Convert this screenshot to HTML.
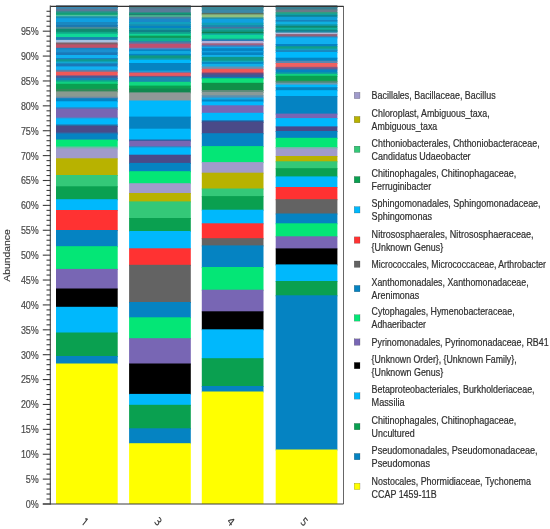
<!DOCTYPE html>
<html><head><meta charset="utf-8"><style>
html,body{margin:0;padding:0;background:#fff;overflow:hidden;}
svg{display:block;}
#w{width:550px;height:529px;}
text{font-family:"Liberation Sans",Arial,sans-serif;}
text.xl{font-family:NanumGothic,"Liberation Sans",sans-serif;}
</style></head><body>
<div id="w"><svg width="550" height="529" viewBox="0 0 550 529">
<rect width="550" height="529" fill="#fff"/>
<g>
<rect x="56.0" y="5.5" width="61.7" height="2.5" fill="#12304a"/>
<rect x="56.0" y="7" width="61.7" height="2.7" fill="#3a88b0"/>
<rect x="56.0" y="8.7" width="61.7" height="3.7" fill="#5a7898"/>
<rect x="56.0" y="11.4" width="61.7" height="2.9" fill="#209888"/>
<rect x="56.0" y="13.3" width="61.7" height="2.5" fill="#10a070"/>
<rect x="56.0" y="14.8" width="61.7" height="2.5" fill="#50c0a0"/>
<rect x="56.0" y="16.3" width="61.7" height="2.9" fill="#1a90b0"/>
<rect x="56.0" y="18.2" width="61.7" height="4.8" fill="#10a0e0"/>
<rect x="56.0" y="22" width="61.7" height="4.0" fill="#1a88c0"/>
<rect x="56.0" y="25" width="61.7" height="2.9" fill="#1a78b0"/>
<rect x="56.0" y="26.9" width="61.7" height="2.9" fill="#4a8a98"/>
<rect x="56.0" y="28.8" width="61.7" height="4.0" fill="#108a70"/>
<rect x="56.0" y="31.8" width="61.7" height="2.9" fill="#10a888"/>
<rect x="56.0" y="33.7" width="61.7" height="4.4" fill="#10d898"/>
<rect x="56.0" y="37.1" width="61.7" height="3.8" fill="#1a80b0"/>
<rect x="56.0" y="39.9" width="61.7" height="3.6" fill="#a8c0e0"/>
<rect x="56.0" y="42.5" width="61.7" height="2.9" fill="#806068"/>
<rect x="56.0" y="44.4" width="61.7" height="4.4" fill="#c05068"/>
<rect x="56.0" y="47.8" width="61.7" height="2.6" fill="#2080c0"/>
<rect x="56.0" y="49.4" width="61.7" height="4.0" fill="#1a90d0"/>
<rect x="56.0" y="52.4" width="61.7" height="3.6" fill="#1a78b8"/>
<rect x="56.0" y="55" width="61.7" height="4.0" fill="#10b0f0"/>
<rect x="56.0" y="58" width="61.7" height="2.2" fill="#1a80c0"/>
<rect x="56.0" y="59.2" width="61.7" height="3.3" fill="#109890"/>
<rect x="56.0" y="61.5" width="61.7" height="2.9" fill="#10a8d0"/>
<rect x="56.0" y="63.4" width="61.7" height="4.0" fill="#1a78b8"/>
<rect x="56.0" y="66.4" width="61.7" height="4.4" fill="#10b0f0"/>
<rect x="56.0" y="69.8" width="61.7" height="2.9" fill="#5a80a8"/>
<rect x="56.0" y="71.7" width="61.7" height="4.8" fill="#f05858"/>
<rect x="56.0" y="75.5" width="61.7" height="3.3" fill="#4a5a98"/>
<rect x="56.0" y="77.8" width="61.7" height="3.2" fill="#1a80b8"/>
<rect x="56.0" y="80" width="61.7" height="2.6" fill="#10a090"/>
<rect x="56.0" y="81.6" width="61.7" height="3.2" fill="#10d080"/>
<rect x="56.0" y="83.8" width="61.7" height="6.0" fill="#0aa050"/>
<rect x="56.0" y="88.8" width="61.7" height="3.6" fill="#308a58"/>
<rect x="56.0" y="91.4" width="61.7" height="6.3" fill="#8a9a90"/>
<rect x="56.0" y="96.7" width="61.7" height="2.5" fill="#6a8aa8"/>
<rect x="56.0" y="98.2" width="61.7" height="4.1" fill="#0583c2"/>
<rect x="56.0" y="101.3" width="61.7" height="7.0" fill="#00b8fc"/>
<rect x="56.0" y="107.3" width="61.7" height="2.5" fill="#3a80c0"/>
<rect x="56.0" y="108.8" width="61.7" height="9.7" fill="#7866b4"/>
<rect x="56.0" y="117.5" width="61.7" height="2.0" fill="#3a90d0"/>
<rect x="56.0" y="118.5" width="61.7" height="7.0" fill="#00b8fc"/>
<rect x="56.0" y="124.5" width="61.7" height="2.5" fill="#2a6aa0"/>
<rect x="56.0" y="126" width="61.7" height="7.5" fill="#4a4a88"/>
<rect x="56.0" y="132.5" width="61.7" height="2.1" fill="#2a6aa8"/>
<rect x="56.0" y="133.6" width="61.7" height="6.4" fill="#0583c2"/>
<rect x="56.0" y="139" width="61.7" height="2.0" fill="#10a8a0"/>
<rect x="56.0" y="140" width="61.7" height="7.5" fill="#04e676"/>
<rect x="56.0" y="146.5" width="61.7" height="2.9" fill="#70b8a8"/>
<rect x="56.0" y="148.4" width="61.7" height="10.9" fill="#a09bcb"/>
<rect x="56.0" y="158.3" width="61.7" height="17.7" fill="#b8b200"/>
<rect x="56.0" y="175" width="61.7" height="12.3" fill="#34c878"/>
<rect x="56.0" y="186.3" width="61.7" height="13.9" fill="#0aa050"/>
<rect x="56.0" y="199.2" width="61.7" height="11.8" fill="#00b8fc"/>
<rect x="56.0" y="210" width="61.7" height="21.0" fill="#ff3232"/>
<rect x="56.0" y="230" width="61.7" height="17.2" fill="#0583c2"/>
<rect x="56.0" y="246.2" width="61.7" height="23.7" fill="#04e676"/>
<rect x="56.0" y="268.9" width="61.7" height="20.6" fill="#7866b4"/>
<rect x="56.0" y="288.5" width="61.7" height="19.3" fill="#000000"/>
<rect x="56.0" y="306.8" width="61.7" height="26.7" fill="#00b8fc"/>
<rect x="56.0" y="332.5" width="61.7" height="24.5" fill="#0aa050"/>
<rect x="56.0" y="356" width="61.7" height="8.5" fill="#0583c2"/>
<rect x="56.0" y="363.5" width="61.7" height="140.5" fill="#ffff00"/>
<rect x="129.1" y="5.5" width="61.7" height="2.3" fill="#203040"/>
<rect x="129.1" y="6.8" width="61.7" height="2.5" fill="#4a8088"/>
<rect x="129.1" y="8.3" width="61.7" height="5.2" fill="#5a7a98"/>
<rect x="129.1" y="12.5" width="61.7" height="2.5" fill="#109878"/>
<rect x="129.1" y="14" width="61.7" height="2.2" fill="#208070"/>
<rect x="129.1" y="15.2" width="61.7" height="2.5" fill="#50b890"/>
<rect x="129.1" y="16.7" width="61.7" height="2.9" fill="#4a80a0"/>
<rect x="129.1" y="18.6" width="61.7" height="4.4" fill="#1a88c8"/>
<rect x="129.1" y="22" width="61.7" height="3.2" fill="#10a0c0"/>
<rect x="129.1" y="24.2" width="61.7" height="2.6" fill="#1a90b0"/>
<rect x="129.1" y="25.8" width="61.7" height="3.2" fill="#0583c2"/>
<rect x="129.1" y="28" width="61.7" height="2.9" fill="#109aa8"/>
<rect x="129.1" y="29.9" width="61.7" height="3.3" fill="#108088"/>
<rect x="129.1" y="32.2" width="61.7" height="2.9" fill="#10a890"/>
<rect x="129.1" y="34.1" width="61.7" height="2.5" fill="#10d898"/>
<rect x="129.1" y="35.6" width="61.7" height="3.3" fill="#109858"/>
<rect x="129.1" y="37.9" width="61.7" height="4.1" fill="#10b090"/>
<rect x="129.1" y="41" width="61.7" height="2.5" fill="#2a8aa8"/>
<rect x="129.1" y="42.5" width="61.7" height="2.5" fill="#7a6a98"/>
<rect x="129.1" y="44" width="61.7" height="4.8" fill="#c05070"/>
<rect x="129.1" y="47.8" width="61.7" height="2.6" fill="#5a80c0"/>
<rect x="129.1" y="49.4" width="61.7" height="2.5" fill="#0583c2"/>
<rect x="129.1" y="50.9" width="61.7" height="4.0" fill="#10a8e0"/>
<rect x="129.1" y="53.9" width="61.7" height="2.5" fill="#0583c2"/>
<rect x="129.1" y="55.4" width="61.7" height="4.1" fill="#109880"/>
<rect x="129.1" y="58.5" width="61.7" height="2.5" fill="#10a0c0"/>
<rect x="129.1" y="60" width="61.7" height="4.0" fill="#00b8fc"/>
<rect x="129.1" y="63" width="61.7" height="8.6" fill="#0583c2"/>
<rect x="129.1" y="70.6" width="61.7" height="2.1" fill="#10a8e0"/>
<rect x="129.1" y="71.7" width="61.7" height="2.1" fill="#5a7ab0"/>
<rect x="129.1" y="72.8" width="61.7" height="4.1" fill="#e85860"/>
<rect x="129.1" y="75.9" width="61.7" height="2.3" fill="#5a6090"/>
<rect x="129.1" y="77.2" width="61.7" height="5.6" fill="#1a88b0"/>
<rect x="129.1" y="81.8" width="61.7" height="4.8" fill="#10d880"/>
<rect x="129.1" y="85.6" width="61.7" height="3.9" fill="#0aa050"/>
<rect x="129.1" y="88.5" width="61.7" height="4.9" fill="#108850"/>
<rect x="129.1" y="92.4" width="61.7" height="9.1" fill="#909898"/>
<rect x="129.1" y="100.5" width="61.7" height="17.1" fill="#00b8fc"/>
<rect x="129.1" y="116.6" width="61.7" height="13.1" fill="#0583c2"/>
<rect x="129.1" y="128.7" width="61.7" height="11.8" fill="#00b8fc"/>
<rect x="129.1" y="139.5" width="61.7" height="2.3" fill="#2a60a0"/>
<rect x="129.1" y="140.8" width="61.7" height="6.3" fill="#7866b4"/>
<rect x="129.1" y="146.1" width="61.7" height="2.3" fill="#3a80c0"/>
<rect x="129.1" y="147.4" width="61.7" height="8.3" fill="#00b8fc"/>
<rect x="129.1" y="154.7" width="61.7" height="9.2" fill="#4a4a88"/>
<rect x="129.1" y="162.9" width="61.7" height="9.3" fill="#0583c2"/>
<rect x="129.1" y="171.2" width="61.7" height="13.0" fill="#04e676"/>
<rect x="129.1" y="183.2" width="61.7" height="10.8" fill="#a09bcb"/>
<rect x="129.1" y="193" width="61.7" height="9.4" fill="#b8b200"/>
<rect x="129.1" y="201.4" width="61.7" height="17.6" fill="#34c878"/>
<rect x="129.1" y="218" width="61.7" height="14.0" fill="#0aa050"/>
<rect x="129.1" y="231" width="61.7" height="18.3" fill="#00b8fc"/>
<rect x="129.1" y="248.3" width="61.7" height="17.5" fill="#ff3232"/>
<rect x="129.1" y="264.8" width="61.7" height="38.2" fill="#636363"/>
<rect x="129.1" y="302" width="61.7" height="16.3" fill="#0583c2"/>
<rect x="129.1" y="317.3" width="61.7" height="21.9" fill="#04e676"/>
<rect x="129.1" y="338.2" width="61.7" height="26.3" fill="#7866b4"/>
<rect x="129.1" y="363.5" width="61.7" height="31.4" fill="#000000"/>
<rect x="129.1" y="393.9" width="61.7" height="11.9" fill="#00b8fc"/>
<rect x="129.1" y="404.8" width="61.7" height="24.5" fill="#0aa050"/>
<rect x="129.1" y="428.3" width="61.7" height="15.9" fill="#0583c2"/>
<rect x="129.1" y="443.2" width="61.7" height="60.8" fill="#ffff00"/>
<rect x="201.8" y="5.5" width="61.7" height="2.3" fill="#103040"/>
<rect x="201.8" y="6.8" width="61.7" height="4.0" fill="#3a8898"/>
<rect x="201.8" y="9.8" width="61.7" height="4.1" fill="#3a88a8"/>
<rect x="201.8" y="12.9" width="61.7" height="2.5" fill="#5a7060"/>
<rect x="201.8" y="14.4" width="61.7" height="4.0" fill="#90c080"/>
<rect x="201.8" y="17.4" width="61.7" height="2.5" fill="#2a90a0"/>
<rect x="201.8" y="18.9" width="61.7" height="4.8" fill="#10a0e0"/>
<rect x="201.8" y="22.7" width="61.7" height="3.3" fill="#10a0b8"/>
<rect x="201.8" y="25" width="61.7" height="2.9" fill="#1a88b0"/>
<rect x="201.8" y="26.9" width="61.7" height="2.5" fill="#4a70a0"/>
<rect x="201.8" y="28.4" width="61.7" height="2.5" fill="#20a0a0"/>
<rect x="201.8" y="29.9" width="61.7" height="2.9" fill="#109888"/>
<rect x="201.8" y="31.8" width="61.7" height="2.5" fill="#108050"/>
<rect x="201.8" y="33.3" width="61.7" height="2.5" fill="#10a8a0"/>
<rect x="201.8" y="34.8" width="61.7" height="4.8" fill="#10d898"/>
<rect x="201.8" y="38.6" width="61.7" height="1.9" fill="#10a890"/>
<rect x="201.8" y="39.5" width="61.7" height="2.5" fill="#2a78b8"/>
<rect x="201.8" y="41" width="61.7" height="3.3" fill="#b0b0d8"/>
<rect x="201.8" y="43.3" width="61.7" height="2.9" fill="#a06080"/>
<rect x="201.8" y="45.2" width="61.7" height="2.5" fill="#4a78b8"/>
<rect x="201.8" y="46.7" width="61.7" height="2.5" fill="#10a8e8"/>
<rect x="201.8" y="48.2" width="61.7" height="3.7" fill="#0583c2"/>
<rect x="201.8" y="50.9" width="61.7" height="2.5" fill="#10a0e0"/>
<rect x="201.8" y="52.4" width="61.7" height="3.6" fill="#0583c2"/>
<rect x="201.8" y="55" width="61.7" height="2.9" fill="#10b0e8"/>
<rect x="201.8" y="56.9" width="61.7" height="4.8" fill="#109888"/>
<rect x="201.8" y="60.7" width="61.7" height="2.5" fill="#10a8c0"/>
<rect x="201.8" y="62.2" width="61.7" height="2.6" fill="#0583c2"/>
<rect x="201.8" y="63.8" width="61.7" height="3.7" fill="#10b0e8"/>
<rect x="201.8" y="66.5" width="61.7" height="3.3" fill="#6a90b0"/>
<rect x="201.8" y="68.8" width="61.7" height="4.8" fill="#f05858"/>
<rect x="201.8" y="72.6" width="61.7" height="2.9" fill="#6a4a80"/>
<rect x="201.8" y="74.5" width="61.7" height="3.7" fill="#3a5a98"/>
<rect x="201.8" y="77.2" width="61.7" height="2.1" fill="#0583c2"/>
<rect x="201.8" y="78.3" width="61.7" height="5.5" fill="#10e078"/>
<rect x="201.8" y="82.8" width="61.7" height="8.2" fill="#109048"/>
<rect x="201.8" y="90" width="61.7" height="2.9" fill="#5a8a78"/>
<rect x="201.8" y="91.9" width="61.7" height="4.4" fill="#8a9a98"/>
<rect x="201.8" y="95.3" width="61.7" height="3.3" fill="#5a90b0"/>
<rect x="201.8" y="97.6" width="61.7" height="2.9" fill="#10a8e8"/>
<rect x="201.8" y="99.5" width="61.7" height="3.0" fill="#0583c2"/>
<rect x="201.8" y="101.5" width="61.7" height="4.8" fill="#00b8fc"/>
<rect x="201.8" y="105.3" width="61.7" height="8.5" fill="#7866b4"/>
<rect x="201.8" y="112.8" width="61.7" height="8.6" fill="#00b8fc"/>
<rect x="201.8" y="120.4" width="61.7" height="2.5" fill="#2a5a98"/>
<rect x="201.8" y="121.9" width="61.7" height="12.3" fill="#4a4a88"/>
<rect x="201.8" y="133.2" width="61.7" height="13.9" fill="#0583c2"/>
<rect x="201.8" y="146.1" width="61.7" height="17.0" fill="#04e676"/>
<rect x="201.8" y="162.1" width="61.7" height="11.6" fill="#a09bcb"/>
<rect x="201.8" y="172.7" width="61.7" height="16.8" fill="#b8b200"/>
<rect x="201.8" y="188.5" width="61.7" height="8.6" fill="#34c878"/>
<rect x="201.8" y="196.1" width="61.7" height="14.6" fill="#0aa050"/>
<rect x="201.8" y="209.7" width="61.7" height="14.6" fill="#00b8fc"/>
<rect x="201.8" y="223.3" width="61.7" height="15.9" fill="#ff3232"/>
<rect x="201.8" y="238.2" width="61.7" height="8.2" fill="#636363"/>
<rect x="201.8" y="245.4" width="61.7" height="22.6" fill="#0583c2"/>
<rect x="201.8" y="267" width="61.7" height="23.7" fill="#04e676"/>
<rect x="201.8" y="289.7" width="61.7" height="22.6" fill="#7866b4"/>
<rect x="201.8" y="311.3" width="61.7" height="19.0" fill="#000000"/>
<rect x="201.8" y="329.3" width="61.7" height="29.9" fill="#00b8fc"/>
<rect x="201.8" y="358.2" width="61.7" height="28.8" fill="#0aa050"/>
<rect x="201.8" y="386" width="61.7" height="6.5" fill="#0583c2"/>
<rect x="201.8" y="391.5" width="61.7" height="112.5" fill="#ffff00"/>
<rect x="275.7" y="5.5" width="61.7" height="2.3" fill="#103040"/>
<rect x="275.7" y="6.8" width="61.7" height="3.7" fill="#3a8090"/>
<rect x="275.7" y="9.5" width="61.7" height="3.6" fill="#6a7a88"/>
<rect x="275.7" y="12.1" width="61.7" height="2.5" fill="#30a080"/>
<rect x="275.7" y="13.6" width="61.7" height="2.6" fill="#10a0a0"/>
<rect x="275.7" y="15.2" width="61.7" height="2.5" fill="#108090"/>
<rect x="275.7" y="16.7" width="61.7" height="4.4" fill="#10a0d8"/>
<rect x="275.7" y="20.1" width="61.7" height="2.5" fill="#1a80b8"/>
<rect x="275.7" y="21.6" width="61.7" height="3.6" fill="#10b0e0"/>
<rect x="275.7" y="24.2" width="61.7" height="2.6" fill="#109ab0"/>
<rect x="275.7" y="25.8" width="61.7" height="2.9" fill="#108870"/>
<rect x="275.7" y="27.7" width="61.7" height="2.8" fill="#10b0a0"/>
<rect x="275.7" y="29.5" width="61.7" height="1.8" fill="#109880"/>
<rect x="275.7" y="30.3" width="61.7" height="1.7" fill="#1a7890"/>
<rect x="275.7" y="31" width="61.7" height="2.6" fill="#1a88a0"/>
<rect x="275.7" y="32.6" width="61.7" height="2.5" fill="#b0b8d8"/>
<rect x="275.7" y="34.1" width="61.7" height="3.3" fill="#906078"/>
<rect x="275.7" y="36.4" width="61.7" height="2.1" fill="#2a88c0"/>
<rect x="275.7" y="37.5" width="61.7" height="7.5" fill="#10b0f0"/>
<rect x="275.7" y="44" width="61.7" height="3.3" fill="#0583c2"/>
<rect x="275.7" y="46.3" width="61.7" height="3.3" fill="#10a088"/>
<rect x="275.7" y="48.6" width="61.7" height="2.5" fill="#10a0c0"/>
<rect x="275.7" y="50.1" width="61.7" height="2.9" fill="#1a88c0"/>
<rect x="275.7" y="52" width="61.7" height="6.7" fill="#00b8fc"/>
<rect x="275.7" y="57.7" width="61.7" height="4.0" fill="#0583c2"/>
<rect x="275.7" y="60.7" width="61.7" height="3.3" fill="#5a88b0"/>
<rect x="275.7" y="63" width="61.7" height="4.8" fill="#f06060"/>
<rect x="275.7" y="66.8" width="61.7" height="2.0" fill="#8a5a80"/>
<rect x="275.7" y="67.8" width="61.7" height="2.6" fill="#6a5a90"/>
<rect x="275.7" y="69.4" width="61.7" height="4.0" fill="#0583c2"/>
<rect x="275.7" y="72.4" width="61.7" height="2.6" fill="#10a0a0"/>
<rect x="275.7" y="74" width="61.7" height="2.8" fill="#10d080"/>
<rect x="275.7" y="75.8" width="61.7" height="6.0" fill="#0aa050"/>
<rect x="275.7" y="80.8" width="61.7" height="2.9" fill="#4a8a70"/>
<rect x="275.7" y="82.7" width="61.7" height="2.9" fill="#6a9ab0"/>
<rect x="275.7" y="84.6" width="61.7" height="3.6" fill="#00b8fc"/>
<rect x="275.7" y="87.2" width="61.7" height="4.0" fill="#0583c2"/>
<rect x="275.7" y="90.2" width="61.7" height="6.8" fill="#00b8fc"/>
<rect x="275.7" y="96" width="61.7" height="18.6" fill="#0583c2"/>
<rect x="275.7" y="113.6" width="61.7" height="5.5" fill="#7866b4"/>
<rect x="275.7" y="118.1" width="61.7" height="9.3" fill="#00b8fc"/>
<rect x="275.7" y="126.4" width="61.7" height="5.6" fill="#4a4a88"/>
<rect x="275.7" y="131" width="61.7" height="7.8" fill="#0583c2"/>
<rect x="275.7" y="137.8" width="61.7" height="10.2" fill="#04e676"/>
<rect x="275.7" y="147" width="61.7" height="2.5" fill="#70b8a8"/>
<rect x="275.7" y="148.5" width="61.7" height="8.5" fill="#a09bcb"/>
<rect x="275.7" y="156" width="61.7" height="6.3" fill="#b8b200"/>
<rect x="275.7" y="161.3" width="61.7" height="7.9" fill="#34c878"/>
<rect x="275.7" y="168.2" width="61.7" height="9.2" fill="#0aa050"/>
<rect x="275.7" y="176.4" width="61.7" height="11.6" fill="#00b8fc"/>
<rect x="275.7" y="187" width="61.7" height="13.2" fill="#ff3232"/>
<rect x="275.7" y="199.2" width="61.7" height="15.3" fill="#636363"/>
<rect x="275.7" y="213.5" width="61.7" height="10.8" fill="#0583c2"/>
<rect x="275.7" y="223.3" width="61.7" height="14.0" fill="#04e676"/>
<rect x="275.7" y="236.3" width="61.7" height="13.1" fill="#7866b4"/>
<rect x="275.7" y="248.4" width="61.7" height="17.0" fill="#000000"/>
<rect x="275.7" y="264.4" width="61.7" height="17.6" fill="#00b8fc"/>
<rect x="275.7" y="281" width="61.7" height="15.3" fill="#0aa050"/>
<rect x="275.7" y="295.3" width="61.7" height="155.2" fill="#0583c2"/>
<rect x="275.7" y="449.5" width="61.7" height="54.5" fill="#ffff00"/>
</g>
<g stroke="#555" stroke-width="1">
<line x1="343.5" y1="6" x2="343.5" y2="504" stroke="#666" stroke-width="1"/>
</g>
<g stroke="#333" stroke-width="1.2">
<line x1="50.5" y1="6.3" x2="343.5" y2="6.3"/>
</g>
<g stroke="#3c3c3c" stroke-width="1.1">
<line x1="50.3" y1="5.5" x2="50.3" y2="504.5"/>
<line x1="42.8" y1="504" x2="343.5" y2="504"/>
<line x1="42.8" x2="50.5" y1="504.00" y2="504.00"/>
<line x1="46.5" x2="50.5" y1="499.02" y2="499.02"/>
<line x1="46.5" x2="50.5" y1="494.05" y2="494.05"/>
<line x1="46.5" x2="50.5" y1="489.07" y2="489.07"/>
<line x1="46.5" x2="50.5" y1="484.09" y2="484.09"/>
<line x1="42.8" x2="50.5" y1="479.12" y2="479.12"/>
<line x1="46.5" x2="50.5" y1="474.14" y2="474.14"/>
<line x1="46.5" x2="50.5" y1="469.16" y2="469.16"/>
<line x1="46.5" x2="50.5" y1="464.18" y2="464.18"/>
<line x1="46.5" x2="50.5" y1="459.21" y2="459.21"/>
<line x1="42.8" x2="50.5" y1="454.23" y2="454.23"/>
<line x1="46.5" x2="50.5" y1="449.25" y2="449.25"/>
<line x1="46.5" x2="50.5" y1="444.28" y2="444.28"/>
<line x1="46.5" x2="50.5" y1="439.30" y2="439.30"/>
<line x1="46.5" x2="50.5" y1="434.32" y2="434.32"/>
<line x1="42.8" x2="50.5" y1="429.35" y2="429.35"/>
<line x1="46.5" x2="50.5" y1="424.37" y2="424.37"/>
<line x1="46.5" x2="50.5" y1="419.39" y2="419.39"/>
<line x1="46.5" x2="50.5" y1="414.41" y2="414.41"/>
<line x1="46.5" x2="50.5" y1="409.44" y2="409.44"/>
<line x1="42.8" x2="50.5" y1="404.46" y2="404.46"/>
<line x1="46.5" x2="50.5" y1="399.48" y2="399.48"/>
<line x1="46.5" x2="50.5" y1="394.51" y2="394.51"/>
<line x1="46.5" x2="50.5" y1="389.53" y2="389.53"/>
<line x1="46.5" x2="50.5" y1="384.55" y2="384.55"/>
<line x1="42.8" x2="50.5" y1="379.57" y2="379.57"/>
<line x1="46.5" x2="50.5" y1="374.60" y2="374.60"/>
<line x1="46.5" x2="50.5" y1="369.62" y2="369.62"/>
<line x1="46.5" x2="50.5" y1="364.64" y2="364.64"/>
<line x1="46.5" x2="50.5" y1="359.67" y2="359.67"/>
<line x1="42.8" x2="50.5" y1="354.69" y2="354.69"/>
<line x1="46.5" x2="50.5" y1="349.71" y2="349.71"/>
<line x1="46.5" x2="50.5" y1="344.74" y2="344.74"/>
<line x1="46.5" x2="50.5" y1="339.76" y2="339.76"/>
<line x1="46.5" x2="50.5" y1="334.78" y2="334.78"/>
<line x1="42.8" x2="50.5" y1="329.81" y2="329.81"/>
<line x1="46.5" x2="50.5" y1="324.83" y2="324.83"/>
<line x1="46.5" x2="50.5" y1="319.85" y2="319.85"/>
<line x1="46.5" x2="50.5" y1="314.87" y2="314.87"/>
<line x1="46.5" x2="50.5" y1="309.90" y2="309.90"/>
<line x1="42.8" x2="50.5" y1="304.92" y2="304.92"/>
<line x1="46.5" x2="50.5" y1="299.94" y2="299.94"/>
<line x1="46.5" x2="50.5" y1="294.97" y2="294.97"/>
<line x1="46.5" x2="50.5" y1="289.99" y2="289.99"/>
<line x1="46.5" x2="50.5" y1="285.01" y2="285.01"/>
<line x1="42.8" x2="50.5" y1="280.03" y2="280.03"/>
<line x1="46.5" x2="50.5" y1="275.06" y2="275.06"/>
<line x1="46.5" x2="50.5" y1="270.08" y2="270.08"/>
<line x1="46.5" x2="50.5" y1="265.10" y2="265.10"/>
<line x1="46.5" x2="50.5" y1="260.13" y2="260.13"/>
<line x1="42.8" x2="50.5" y1="255.15" y2="255.15"/>
<line x1="46.5" x2="50.5" y1="250.17" y2="250.17"/>
<line x1="46.5" x2="50.5" y1="245.20" y2="245.20"/>
<line x1="46.5" x2="50.5" y1="240.22" y2="240.22"/>
<line x1="46.5" x2="50.5" y1="235.24" y2="235.24"/>
<line x1="42.8" x2="50.5" y1="230.26" y2="230.26"/>
<line x1="46.5" x2="50.5" y1="225.29" y2="225.29"/>
<line x1="46.5" x2="50.5" y1="220.31" y2="220.31"/>
<line x1="46.5" x2="50.5" y1="215.33" y2="215.33"/>
<line x1="46.5" x2="50.5" y1="210.36" y2="210.36"/>
<line x1="42.8" x2="50.5" y1="205.38" y2="205.38"/>
<line x1="46.5" x2="50.5" y1="200.40" y2="200.40"/>
<line x1="46.5" x2="50.5" y1="195.43" y2="195.43"/>
<line x1="46.5" x2="50.5" y1="190.45" y2="190.45"/>
<line x1="46.5" x2="50.5" y1="185.47" y2="185.47"/>
<line x1="42.8" x2="50.5" y1="180.50" y2="180.50"/>
<line x1="46.5" x2="50.5" y1="175.52" y2="175.52"/>
<line x1="46.5" x2="50.5" y1="170.54" y2="170.54"/>
<line x1="46.5" x2="50.5" y1="165.56" y2="165.56"/>
<line x1="46.5" x2="50.5" y1="160.59" y2="160.59"/>
<line x1="42.8" x2="50.5" y1="155.61" y2="155.61"/>
<line x1="46.5" x2="50.5" y1="150.63" y2="150.63"/>
<line x1="46.5" x2="50.5" y1="145.66" y2="145.66"/>
<line x1="46.5" x2="50.5" y1="140.68" y2="140.68"/>
<line x1="46.5" x2="50.5" y1="135.70" y2="135.70"/>
<line x1="42.8" x2="50.5" y1="130.73" y2="130.73"/>
<line x1="46.5" x2="50.5" y1="125.75" y2="125.75"/>
<line x1="46.5" x2="50.5" y1="120.77" y2="120.77"/>
<line x1="46.5" x2="50.5" y1="115.79" y2="115.79"/>
<line x1="46.5" x2="50.5" y1="110.82" y2="110.82"/>
<line x1="42.8" x2="50.5" y1="105.84" y2="105.84"/>
<line x1="46.5" x2="50.5" y1="100.86" y2="100.86"/>
<line x1="46.5" x2="50.5" y1="95.89" y2="95.89"/>
<line x1="46.5" x2="50.5" y1="90.91" y2="90.91"/>
<line x1="46.5" x2="50.5" y1="85.93" y2="85.93"/>
<line x1="42.8" x2="50.5" y1="80.96" y2="80.96"/>
<line x1="46.5" x2="50.5" y1="75.98" y2="75.98"/>
<line x1="46.5" x2="50.5" y1="71.00" y2="71.00"/>
<line x1="46.5" x2="50.5" y1="66.02" y2="66.02"/>
<line x1="46.5" x2="50.5" y1="61.05" y2="61.05"/>
<line x1="42.8" x2="50.5" y1="56.07" y2="56.07"/>
<line x1="46.5" x2="50.5" y1="51.09" y2="51.09"/>
<line x1="46.5" x2="50.5" y1="46.12" y2="46.12"/>
<line x1="46.5" x2="50.5" y1="41.14" y2="41.14"/>
<line x1="46.5" x2="50.5" y1="36.16" y2="36.16"/>
<line x1="42.8" x2="50.5" y1="31.19" y2="31.19"/>
<line x1="46.5" x2="50.5" y1="26.21" y2="26.21"/>
<line x1="46.5" x2="50.5" y1="21.23" y2="21.23"/>
<line x1="46.5" x2="50.5" y1="16.25" y2="16.25"/>
<line x1="46.5" x2="50.5" y1="11.28" y2="11.28"/>
</g>
<g font-size="10.3" fill="#4a4a4a" stroke="#4a4a4a" stroke-width="0.2" text-anchor="end">
<text transform="translate(38.8,507.90) scale(0.87,1)">0%</text>
<text transform="translate(38.8,483.01) scale(0.87,1)">5%</text>
<text transform="translate(38.8,458.13) scale(0.87,1)">10%</text>
<text transform="translate(38.8,433.25) scale(0.87,1)">15%</text>
<text transform="translate(38.8,408.36) scale(0.87,1)">20%</text>
<text transform="translate(38.8,383.47) scale(0.87,1)">25%</text>
<text transform="translate(38.8,358.59) scale(0.87,1)">30%</text>
<text transform="translate(38.8,333.70) scale(0.87,1)">35%</text>
<text transform="translate(38.8,308.82) scale(0.87,1)">40%</text>
<text transform="translate(38.8,283.93) scale(0.87,1)">45%</text>
<text transform="translate(38.8,259.05) scale(0.87,1)">50%</text>
<text transform="translate(38.8,234.16) scale(0.87,1)">55%</text>
<text transform="translate(38.8,209.28) scale(0.87,1)">60%</text>
<text transform="translate(38.8,184.40) scale(0.87,1)">65%</text>
<text transform="translate(38.8,159.51) scale(0.87,1)">70%</text>
<text transform="translate(38.8,134.63) scale(0.87,1)">75%</text>
<text transform="translate(38.8,109.74) scale(0.87,1)">80%</text>
<text transform="translate(38.8,84.86) scale(0.87,1)">85%</text>
<text transform="translate(38.8,59.97) scale(0.87,1)">90%</text>
<text transform="translate(38.8,35.09) scale(0.87,1)">95%</text>
</g>
<text transform="translate(9.9,255.5) rotate(-90) scale(1.08,1)" text-anchor="middle" font-size="9.6" fill="#383838" stroke="#383838" stroke-width="0.15">Abundance</text>
<g font-size="10.4" fill="#2e2e2e" stroke="#2e2e2e" stroke-width="0.2">
<rect x="354.2" y="92.30" width="5.8" height="6.4" fill="#a09bcb"/>
<text x="371.6" y="99.30" textLength="124.0" lengthAdjust="spacingAndGlyphs">Bacillales, Bacillaceae, Bacillus</text>
<rect x="354.2" y="116.40" width="5.8" height="6.4" fill="#b8b200"/>
<text x="371.6" y="117.00" textLength="118.0" lengthAdjust="spacingAndGlyphs">Chloroplast, Ambiguous_taxa,</text>
<text x="371.6" y="130.00" textLength="65.6" lengthAdjust="spacingAndGlyphs">Ambiguous_taxa</text>
<rect x="354.2" y="146.10" width="5.8" height="6.4" fill="#34c878"/>
<text x="371.6" y="146.70" textLength="168.0" lengthAdjust="spacingAndGlyphs">Chthoniobacterales, Chthoniobacteraceae,</text>
<text x="371.6" y="159.70" textLength="99.0" lengthAdjust="spacingAndGlyphs">Candidatus Udaeobacter</text>
<rect x="354.2" y="176.50" width="5.8" height="6.4" fill="#0aa050"/>
<text x="371.6" y="177.10" textLength="144.6" lengthAdjust="spacingAndGlyphs">Chitinophagales, Chitinophagaceae,</text>
<text x="371.6" y="190.10" textLength="59.6" lengthAdjust="spacingAndGlyphs">Ferruginibacter</text>
<rect x="354.2" y="206.60" width="5.8" height="6.4" fill="#00b8fc"/>
<text x="371.6" y="207.20" textLength="169.0" lengthAdjust="spacingAndGlyphs">Sphingomonadales, Sphingomonadaceae,</text>
<text x="371.6" y="220.20" textLength="60.4" lengthAdjust="spacingAndGlyphs">Sphingomonas</text>
<rect x="354.2" y="236.90" width="5.8" height="6.4" fill="#ff3232"/>
<text x="371.6" y="237.50" textLength="162.0" lengthAdjust="spacingAndGlyphs">Nitrososphaerales, Nitrososphaeraceae,</text>
<text x="371.6" y="250.50" textLength="71.5" lengthAdjust="spacingAndGlyphs">{Unknown Genus}</text>
<rect x="354.2" y="261.00" width="5.8" height="6.4" fill="#636363"/>
<text x="371.6" y="268.00" textLength="174.4" lengthAdjust="spacingAndGlyphs">Micrococcales, Micrococcaceae, Arthrobacter</text>
<rect x="354.2" y="285.40" width="5.8" height="6.4" fill="#0583c2"/>
<text x="371.6" y="286.00" textLength="157.0" lengthAdjust="spacingAndGlyphs">Xanthomonadales, Xanthomonadaceae,</text>
<text x="371.6" y="299.00" textLength="47.6" lengthAdjust="spacingAndGlyphs">Arenimonas</text>
<rect x="354.2" y="314.70" width="5.8" height="6.4" fill="#04e676"/>
<text x="371.6" y="315.30" textLength="143.0" lengthAdjust="spacingAndGlyphs">Cytophagales, Hymenobacteraceae,</text>
<text x="371.6" y="328.30" textLength="54.4" lengthAdjust="spacingAndGlyphs">Adhaeribacter</text>
<rect x="354.2" y="338.90" width="5.8" height="6.4" fill="#7866b4"/>
<text x="371.6" y="345.90" textLength="177.0" lengthAdjust="spacingAndGlyphs">Pyrinomonadales, Pyrinomonadaceae, RB41</text>
<rect x="354.2" y="362.40" width="5.8" height="6.4" fill="#000000"/>
<text x="371.6" y="363.00" textLength="145.0" lengthAdjust="spacingAndGlyphs">{Unknown Order}, {Unknown Family},</text>
<text x="371.6" y="376.00" textLength="71.5" lengthAdjust="spacingAndGlyphs">{Unknown Genus}</text>
<rect x="354.2" y="392.70" width="5.8" height="6.4" fill="#00b8fc"/>
<text x="371.6" y="393.30" textLength="163.0" lengthAdjust="spacingAndGlyphs">Betaproteobacteriales, Burkholderiaceae,</text>
<text x="371.6" y="406.30" textLength="33.0" lengthAdjust="spacingAndGlyphs">Massilia</text>
<rect x="354.2" y="423.40" width="5.8" height="6.4" fill="#0aa050"/>
<text x="371.6" y="424.00" textLength="144.6" lengthAdjust="spacingAndGlyphs">Chitinophagales, Chitinophagaceae,</text>
<text x="371.6" y="437.00" textLength="43.0" lengthAdjust="spacingAndGlyphs">Uncultured</text>
<rect x="354.2" y="453.40" width="5.8" height="6.4" fill="#0583c2"/>
<text x="371.6" y="454.00" textLength="166.0" lengthAdjust="spacingAndGlyphs">Pseudomonadales, Pseudomonadaceae,</text>
<text x="371.6" y="467.00" textLength="58.4" lengthAdjust="spacingAndGlyphs">Pseudomonas</text>
<rect x="354.2" y="483.20" width="5.8" height="6.4" fill="#ffff00"/>
<text x="371.6" y="484.60" textLength="159.4" lengthAdjust="spacingAndGlyphs">Nostocales, Phormidiaceae, Tychonema</text>
<text x="371.6" y="497.60" textLength="65.0" lengthAdjust="spacingAndGlyphs">CCAP 1459-11B</text>
</g>
<g font-size="10.5" fill="#333" stroke="#333" stroke-width="0.3" style="font-family:NanumGothic,'Liberation Sans',sans-serif">
<text class="xl" transform="translate(84.8,521.9) scale(0.85,1.08) rotate(45)" x="0" y="3.6" text-anchor="middle">1</text>
<text class="xl" transform="translate(158.2,521.6) scale(0.85,1.08) rotate(45)" x="0" y="3.6" text-anchor="middle">3</text>
<text class="xl" transform="translate(230.8,521.6) scale(0.85,1.08) rotate(45)" x="0" y="3.6" text-anchor="middle">4</text>
<text class="xl" transform="translate(304,521.9) scale(0.85,1.08) rotate(45)" x="0" y="3.6" text-anchor="middle">5</text>
</g>
</svg></div>
</body></html>
